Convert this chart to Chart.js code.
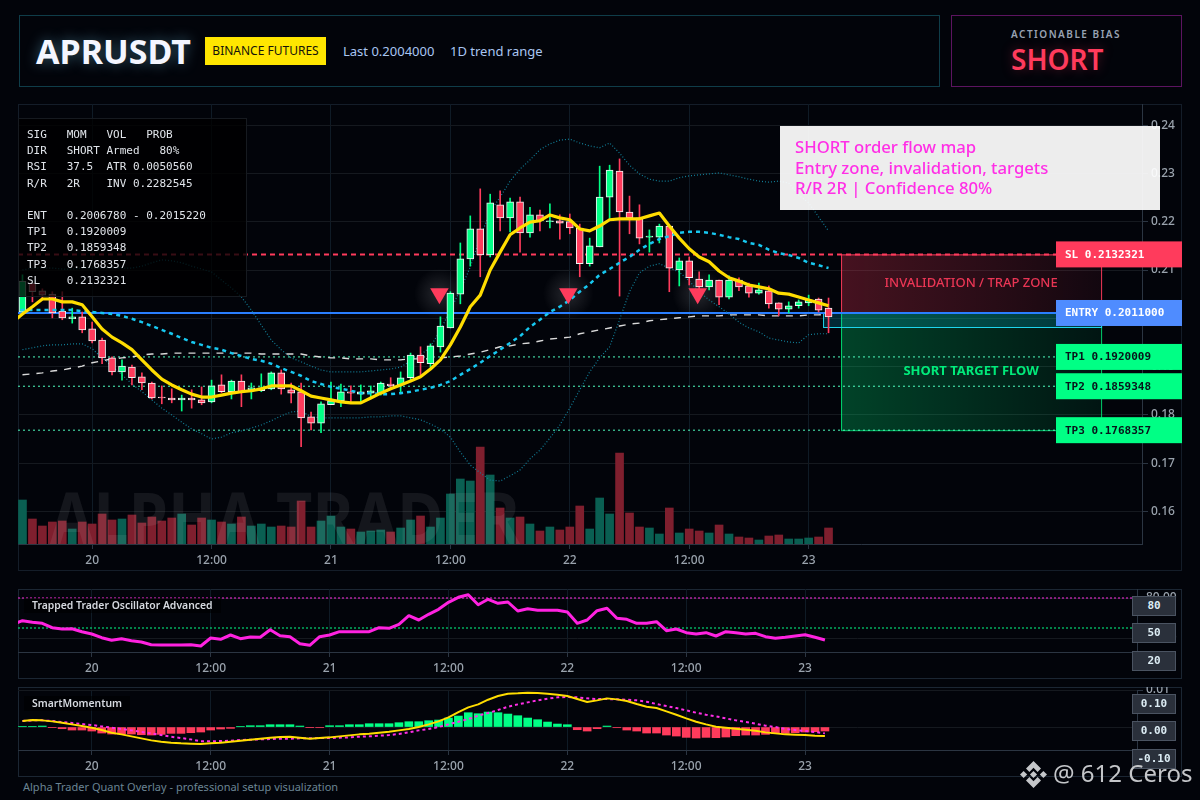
<!DOCTYPE html>
<html>
<head>
<meta charset="utf-8">
<title>APRUSDT</title>
<script src="https://cdn.jsdelivr.net/npm/chart.js@4/dist/chart.umd.min.js"></script>
<style>
  html, body { margin: 0; padding: 0; background: #02040a; }
  body { width: 1200px; height: 800px; position: relative; overflow: hidden; font-family: "Noto Sans", sans-serif; }
  canvas { position: absolute; left: 0; z-index: 1; }
  .panel { position: absolute; box-sizing: border-box; }
  .over { position: absolute; z-index: 3; white-space: pre; }
  .box { position: absolute; z-index: 3; box-sizing: border-box; width: 44px; height: 20px; left: 1132px; background: #2a303b; border: 1px solid #4a5361; color: #dcecf4;
         font: bold 11px/18px "DejaVu Sans Mono", monospace; text-align: center; }
</style>
</head>
<body>
<div class="panel" style="left:19px;top:15px;width:921px;height:72px;border:1px solid #0f3d49"></div>
<div class="panel" style="left:951px;top:15px;width:231px;height:72px;border:1px solid #5c1460"></div>
<div class="panel" style="left:18px;top:104px;width:1164px;height:467px;border:1px solid #141d29"></div>
<div class="panel" style="left:18px;top:589px;width:1164px;height:90px;border:1px solid #1b2633"></div>
<div class="panel" style="left:18px;top:687px;width:1164px;height:90px;border:1px solid #1b2633"></div>

<div class="over" style="left:36px;top:28px;font-size:34px;line-height:46px;font-weight:700;color:#f4f6ff;text-shadow:0 0 14px rgba(120,200,230,.45)">APRUSDT</div>
<div class="over" style="left:205px;top:37px;width:121px;height:28px;background:#ffe600;color:#14130a;font-size:12px;line-height:28px;text-align:center">BINANCE FUTURES</div>
<div class="over" style="left:343px;top:41px;font-size:13px;line-height:20px;color:#a9c6f2">Last 0.2004000</div>
<div class="over" style="left:450px;top:41px;font-size:13px;line-height:20px;color:#a9c6f2">1D trend range</div>
<div class="over" style="left:1011px;top:27px;font-size:10px;line-height:14px;letter-spacing:1.5px;color:#98a2b3;font-weight:600">ACTIONABLE BIAS</div>
<div class="over" style="left:1011px;top:39px;font-size:28px;line-height:40px;font-weight:600;color:#ff3b5c;text-shadow:0 0 12px rgba(255,59,92,.35)">SHORT</div>

<div class="over" style="left:18px;top:118px;width:229px;height:179px;box-sizing:border-box;padding:8px 8px;background:rgba(0,0,0,.78);border:1px solid #161a20;color:#e0e4ea;font:11px/16.2px 'DejaVu Sans Mono',monospace" id="info"></div>

<div class="over" style="left:780px;top:126px;width:380px;height:84px;box-sizing:border-box;padding:11px 15px;background:rgba(255,255,255,.93);color:#ff2fe6;font-size:16.7px;line-height:20.5px;font-weight:500">SHORT order flow map
Entry zone, invalidation, targets
R/R 2R | Confidence 80%</div>

<div class="over" style="left:24px;top:598px;padding:0 8px;background:rgba(0,0,0,.55);color:#d5d9df;font-size:10.4px;line-height:15px;font-weight:600">Trapped Trader Oscillator Advanced</div>
<div class="over" style="left:24px;top:696px;padding:0 8px;background:rgba(0,0,0,.55);color:#d5d9df;font-size:10.4px;line-height:15px;font-weight:600">SmartMomentum</div>

<div class="box" style="top:596px">80</div>
<div class="box" style="top:623px">50</div>
<div class="box" style="top:651px">20</div>
<div class="box" style="top:694px">0.10</div>
<div class="box" style="top:721px">0.00</div>
<div class="box" style="top:749px">-0.10</div>

<div class="over" style="left:23px;top:779px;font-size:11px;line-height:16px;color:#6a8494">Alpha Trader Quant Overlay - professional setup visualization</div>

<svg class="over" style="left:1020px;top:761px" width="27" height="27" viewBox="0 0 27 27">
  <g fill="#c4c6c9">
    <path d="M13.5 0 L21 7.5 L17.6 10.9 L13.5 6.8 L9.4 10.9 L6 7.5 Z"/>
    <path d="M13.5 27 L6 19.5 L9.4 16.1 L13.5 20.2 L17.6 16.1 L21 19.5 Z"/>
    <path d="M3.6 9.9 L7.2 13.5 L3.6 17.1 L0 13.5 Z"/>
    <path d="M23.4 9.9 L27 13.5 L23.4 17.1 L19.8 13.5 Z"/>
    <path d="M13.5 9.9 L17.1 13.5 L13.5 17.1 L9.9 13.5 Z"/>
  </g>
</svg>
<div class="over" style="left:1053px;top:757px;font-size:24px;line-height:32px;color:#c4c6c9">@ 612 Ceros</div>

<canvas id="mainChart" width="1200" height="475" style="top:100px;width:1200px;height:475px"></canvas>
<canvas id="oscChart" width="1200" height="89" style="top:589px;width:1200px;height:89px"></canvas>
<canvas id="momChart" width="1200" height="89" style="top:687px;width:1200px;height:89px"></canvas>

<script>
// hourly candles, index 0 = 19th 17:00
const opens = [
  .2013,.2073,.2057,.2050,.2015,.1999,.2003,.1978,.1955,.1918,
  .1889,.1899,.1879,.1866,.1837,.1835,.1831,.1835,.1831,.1827,
  .1862,.1848,.1870,.1852,.1850,.1854,.1887,.1852,.1848,.1796,
  .1783,.1821,.1829,.1848,.1843,.1845,.1845,.1864,.1862,.1877,
  .1924,.1906,.1941,.1980,.2050,.2123,.2185,.2131,.2235,.2208,
  .2241,.2177,.2214,.2200,.2202,.2200,.2187,.2113,.2148,.2251,
  .2305,.2220,.2208,.2168,.2168,.2191,.2100,.2119,.2081,.2065,
  .2079,.2044,.2079,.2067,.2052,.2057,.2032,.2019,.2026,.2032,
  .2040,.2021];
const highs = [
  .2090,.2073,.2061,.2055,.2055,.2021,.2013,.1992,.1959,.1920,
  .1914,.1903,.1887,.1868,.1860,.1854,.1841,.1852,.1858,.1872,
  .1883,.1872,.1883,.1866,.1885,.1889,.1893,.1866,.1866,.1806,
  .1827,.1868,.1864,.1860,.1862,.1860,.1868,.1877,.1889,.1928,
  .1941,.1947,.2003,.2055,.2156,.2212,.2268,.2257,.2264,.2249,
  .2251,.2230,.2224,.2237,.2214,.2216,.2195,.2166,.2315,.2317,
  .2330,.2253,.2235,.2183,.2195,.2191,.2125,.2127,.2096,.2090,
  .2079,.2088,.2084,.2073,.2073,.2067,.2032,.2034,.2038,.2048,
  .2042,.2042];
const lows = [
  .2011,.2034,.2038,.2001,.1997,.1990,.1970,.1949,.1906,.1883,
  .1872,.1862,.1852,.1833,.1823,.1825,.1808,.1814,.1821,.1825,
  .1846,.1833,.1817,.1833,.1848,.1852,.1843,.1825,.1734,.1769,
  .1763,.1821,.1817,.1825,.1827,.1835,.1841,.1852,.1848,.1872,
  .1883,.1899,.1930,.1980,.2030,.2108,.2086,.2127,.2181,.2179,
  .2137,.2168,.2181,.2187,.2164,.2175,.2086,.2108,.2148,.2206,
  .2046,.2175,.2154,.2137,.2156,.2055,.2067,.2069,.2048,.2059,
  .2028,.2040,.2057,.2044,.2050,.2021,.2005,.2011,.2021,.2026,
  .2013,.1970];
const closes = [
  .2077,.2055,.2048,.2011,.2001,.2003,.1976,.1953,.1918,.1889,
  .1901,.1877,.1866,.1835,.1835,.1831,.1835,.1831,.1825,.1860,
  .1848,.1870,.1848,.1856,.1856,.1887,.1854,.1845,.1794,.1783,
  .1823,.1829,.1848,.1845,.1848,.1850,.1866,.1860,.1877,.1924,
  .1908,.1943,.1984,.2052,.2123,.2185,.2131,.2239,.2208,.2241,
  .2177,.2214,.2202,.2202,.2197,.2187,.2113,.2150,.2251,.2307,
  .2220,.2208,.2166,.2170,.2191,.2104,.2119,.2084,.2065,.2079,
  .2044,.2079,.2065,.2052,.2059,.2030,.2019,.2026,.2034,.2038,
  .2017,.2003];
const volumes = [
  44,25,18,22,23,15,22,20,30,24,
  25,29,21,27,23,26,30,19,26,24,
  22,20,27,18,20,17,18,17,43,17,
  23,28,17,15,12,13,14,12,16,24,
  28,17,26,50,65,63,97,69,36,26,
  27,20,13,17,14,17,38,15,46,30,
  91,31,17,16,10,36,11,15,13,11,
  19,10,7,6,4,8,9,5,5,6,
  7,16];

// overlays. ema and bbMid start one bar earlier, they run off the left edge
const ema = [.1992,
  .2009,.2024,.2040,.2040,.2034,.2034,.2028,.2003,.1978,.1961,
  .1949,.1935,.1914,.1893,.1874,.1862,.1852,.1843,.1837,.1837,
  .1841,.1845,.1848,.1850,.1854,.1860,.1860,.1860,.1850,.1839,
  .1835,.1831,.1827,.1825,.1825,.1835,.1845,.1854,.1862,.1870,
  .1879,.1895,.1914,.1945,.1982,.2024,.2048,.2100,.2137,.2173,
  .2187,.2199,.2202,.2214,.2208,.2204,.2185,.2181,.2191,.2204,
  .2206,.2206,.2206,.2212,.2218,.2191,.2166,.2144,.2127,.2117,
  .2098,.2084,.2077,.2069,.2065,.2061,.2052,.2050,.2044,.2038,
  .2032,.2026];
const bbMid = [.2015,
  .2017,.2017,.2017,.2017,.2017,.2017,.2015,.2013,.2011,.2009,
  .2005,.1999,.1992,.1984,.1976,.1968,.1959,.1951,.1945,.1939,
  .1935,.1928,.1922,.1916,.1912,.1906,.1897,.1889,.1881,.1870,
  .1864,.1858,.1854,.1850,.1845,.1845,.1843,.1843,.1845,.1848,
  .1852,.1856,.1862,.1870,.1883,.1895,.1908,.1922,.1935,.1949,
  .1963,.1982,.1997,.2013,.2024,.2038,.2055,.2071,.2090,.2102,
  .2115,.2127,.2142,.2154,.2164,.2170,.2177,.2179,.2179,.2177,
  .2173,.2168,.2164,.2156,.2152,.2142,.2135,.2131,.2125,.2115,
  .2110,.2104];
const sma = [
  .1883,.1885,.1887,.1891,.1893,.1897,.1901,.1908,.1912,.1916,
  .1918,.1920,.1924,.1926,.1926,.1928,.1928,.1928,.1928,.1928,
  .1928,.1928,.1928,.1928,.1926,.1926,.1926,.1926,.1926,.1922,
  .1920,.1918,.1918,.1916,.1916,.1916,.1914,.1914,.1914,.1916,
  .1916,.1916,.1918,.1920,.1922,.1926,.1930,.1935,.1941,.1943,
  .1947,.1949,.1953,.1957,.1959,.1961,.1968,.1972,.1976,.1980,
  .1984,.1988,.1990,.1995,.1997,.1999,.2001,.2003,.2005,.2005,
  .2005,.2007,.2007,.2007,.2007,.2005,.2005,.2005,.2005,.2007,
  .2007,.2009];
const bbUpper = [
  .2100,.2104,.2104,.2104,.2102,.2102,.2104,.2104,.2104,.2104,
  .2104,.2104,.2108,.2115,.2121,.2119,.2115,.2108,.2102,.2096,
  .2079,.2063,.2044,.2017,.1986,.1955,.1935,.1918,.1910,.1901,
  .1893,.1889,.1889,.1889,.1889,.1891,.1893,.1895,.1899,.1912,
  .1924,.1941,.1976,.2017,.2059,.2106,.2168,.2220,.2251,.2284,
  .2309,.2328,.2349,.2361,.2369,.2371,.2363,.2357,.2353,.2363,
  .2342,.2317,.2299,.2288,.2284,.2284,.2291,.2295,.2297,.2299,
  .2301,.2297,.2293,.2288,.2284,.2282,.2284,.2280,.2255,.2239,
  .2210,.2181];
const bbLower = [
  .1935,.1939,.1943,.1945,.1945,.1947,.1947,.1937,.1918,.1901,
  .1883,.1864,.1848,.1831,.1814,.1800,.1785,.1771,.1761,.1750,
  .1754,.1763,.1767,.1773,.1779,.1788,.1798,.1806,.1808,.1796,
  .1794,.1794,.1794,.1794,.1794,.1796,.1796,.1798,.1798,.1794,
  .1790,.1781,.1771,.1754,.1723,.1696,.1680,.1665,.1663,.1674,
  .1686,.1709,.1727,.1752,.1779,.1814,.1852,.1889,.1918,.1941,
  .1997,.2055,.2094,.2108,.2113,.2104,.2096,.2077,.2055,.2038,
  .2024,.2009,.1992,.1980,.1972,.1959,.1955,.1951,.1949,.1966,
  .1968,.1968];

// sell signals
const signalBars = [41.9, 54.85, 67.85];
const signalPrices = [.2051, .2051, .2051];

// trade levels
const slPrice = 0.2132321;
const entryPrice = 0.2011000;
const entryLow = 0.1982;
const tp1Price = 0.1920009;
const tp2Price = 0.1859348;
const tp3Price = 0.1768357;

// oscillator (starts one bar earlier too)
const oscillator = [53.7,
  57.3,55.7,54.7,50.3,49,49.3,46.3,44,40.3,37.7,
  39.3,37.3,36,33.3,33,33,33,33.3,32,40,
  38.7,43,39.3,41,40.7,48.3,42.3,41.3,34.3,32.7,
  41.3,43,46.3,46.3,46.3,46.3,50.3,49.7,53.7,62.3,
  58,63.7,68.7,75.7,80.7,83.3,73.3,78.7,74.7,76,
  67,69.3,67.7,67.7,67.7,66,54.7,58,67.3,69.7,
  59.7,58.7,54.7,54.7,56.3,47.3,49,45.3,44,45.3,
  42,46.3,45.3,44,44.7,41.3,39.7,40.7,42,43.3,
  40.7,38];

// momentum
const momLine = [
  .00162,.00189,.0018,.00153,.00117,.00072,.00027,-.00018,-.00081,-.00153,
  -.00198,-.00252,-.00306,-.0036,-.00396,-.00423,-.00441,-.0045,-.00459,-.00441,
  -.00423,-.00396,-.00369,-.00342,-.00315,-.00288,-.0027,-.00261,-.00288,-.00315,
  -.00297,-.00279,-.00252,-.00225,-.00198,-.0018,-.00153,-.00126,-.0009,-.00054,
  0,.00072,.00153,.00261,.00405,.00531,.00612,.00738,.00837,.009,
  .00909,.00927,.00918,.009,.00873,.00837,.00756,.00675,.0072,.00774,
  .00747,.00702,.00621,.00549,.00513,.00423,.00333,.00234,.00144,.00072,
  .00009,-.00018,-.00045,-.00072,-.00099,-.00144,-.00171,-.00198,-.00207,-.00216,
  -.00234,-.00243];
const momSignal = [
  .00162,.0018,.0018,.00162,.00135,.00108,.00081,.00054,.00018,-.00018,
  -.00054,-.0009,-.00135,-.00171,-.00216,-.00261,-.00297,-.00333,-.00387,-.00387,
  -.00378,-.00369,-.00351,-.00342,-.00333,-.00324,-.00315,-.00315,-.00306,-.00306,
  -.00297,-.00297,-.00288,-.00279,-.00261,-.00252,-.00234,-.00216,-.00189,-.00144,
  -.0009,-.00054,0,.00072,.00144,.00216,.00306,.00378,.00459,.00549,
  .00612,.00666,.0072,.00765,.00801,.0081,.00801,.00774,.00756,.00756,
  .00747,.00738,.0072,.00684,.00621,.00567,.00513,.0045,.00387,.00333,
  .00288,.00234,.0018,.00135,.0009,.00036,0,-.00054,-.00081,-.00108,
  -.00135,-.00171];
const momHist = [
  .00009,.00009,.00027,-.00009,-.00045,-.00081,-.00081,-.00108,-.00162,-.00189,
  -.00189,-.00189,-.00207,-.00216,-.00198,-.00171,-.00171,-.00153,-.00135,-.00081,
  -.00054,-.00036,.00009,.00036,.00036,.00063,.00063,.00063,.00027,-.00009,
  -.00018,.00036,.00036,.00063,.00063,.0009,.0009,.0009,.00117,.00144,
  .00144,.00171,.00189,.00243,.00297,.00387,.0036,.00405,.00387,.00351,
  .00306,.00243,.00198,.00135,.00081,.00063,-.00072,-.00108,-.00045,.00027,
  -.00018,-.00081,-.00108,-.00162,-.00162,-.00216,-.00243,-.00279,-.00297,-.00279,
  -.00288,-.0027,-.00234,-.00216,-.00216,-.00198,-.0018,-.00171,-.00153,-.00135,
  -.00126,-.00108];

// time axis
const tickBars = [7, 19, 31, 43, 55, 67, 79];
const tickLabels = ['20', '12:00', '21', '12:00', '22', '12:00', '23'];

const infoRows = [
  'SIG   MOM   VOL   PROB',
  'DIR   SHORT Armed   80%',
  'RSI   37.5  ATR 0.0050560',
  'R/R   2R    INV 0.2282545',
  '',
  'ENT   0.2006780 - 0.2015220',
  'TP1   0.1920009',
  'TP2   0.1859348',
  'TP3   0.1768357',
  'SL    0.2132321'
];
document.getElementById('info').textContent = infoRows.join('\n');

const RED = '#ff3b5c', GREEN = '#00ff85';
const UI_FONT = '"Noto Sans", sans-serif', MONO = '"DejaVu Sans Mono", monospace';
const X_MIN = -0.45, X_MAX = 112.5;

function series(values, first = 0) {
  return values.map((v, i) => ({ x: i + first, y: v }));
}

function lineSet(data, color, width, dash, order, yAxisID = 'y') {
  return { type: 'line', data, yAxisID, borderColor: color, borderWidth: width, borderDash: dash,
    pointRadius: 0, tension: 0, order, fill: false, borderJoinStyle: 'round' };
}

function levelSet(price, end, color, width, dash, order) {
  return lineSet([{ x: X_MIN, y: price }, { x: end, y: price }], color, width, dash, order);
}

function timeAxis() {
  return {
    type: 'linear', min: X_MIN, max: X_MAX, offset: false,
    afterBuildTicks: s => { s.ticks = tickBars.map(v => ({ value: v })); },
    afterFit: s => { s.height = 26; s.paddingLeft = 0; s.paddingRight = 0; },
    grid: { color: '#0f1b26', tickColor: '#2b3542', tickLength: 5, offset: false },
    border: { color: '#2b3542' },
    ticks: {
      color: '#9aa3ad', font: { family: UI_FONT, size: 12, weight: '500' }, padding: 4, maxRotation: 0, autoSkip: false,
      callback: v => tickLabels[tickBars.indexOf(v)]
    }
  };
}

function priceAxis(width, min, max, tickValues, digits) {
  return {
    position: 'right', min, max,
    afterBuildTicks: s => { s.ticks = tickValues.map(v => ({ value: v })); },
    afterFit: s => { s.width = width; s.paddingTop = 0; s.paddingBottom = 0; },
    grid: { color: '#15191f', tickColor: '#2b3542', tickLength: 6 },
    border: { color: '#2b3542' },
    ticks: { color: '#9aa3ad', font: { family: UI_FONT, size: 12, weight: '500' }, padding: 3, callback: v => v.toFixed(digits) }
  };
}

const zonePlugin = {
  id: 'zones',
  // the volume set is drawn first, the watermark sits on it and under the candles
  afterDatasetDraw(chart, args) {
    if (args.index !== 0) return;
    const { ctx, chartArea: a } = chart;
    ctx.save();
    ctx.beginPath();
    ctx.rect(a.left, a.top, a.right - a.left, a.bottom - a.top);
    ctx.clip();
    ctx.font = 'bold 72px ' + UI_FONT;
    ctx.fillStyle = 'rgba(255,255,255,0.075)';
    ctx.textBaseline = 'alphabetic';
    ctx.textAlign = 'left';
    ctx.fillText('ALPHA TRADER', 50, 444, 470);
    ctx.restore();
  },
  beforeDatasetsDraw(chart) {
    const { ctx, chartArea: a, scales: { x, y } } = chart;
    const zl = x.getPixelForValue(82.26), zr = x.getPixelForValue(108.39), el = x.getPixelForValue(80.45);
    ctx.save();
    ctx.beginPath();
    ctx.rect(a.left, a.top, a.right - a.left, a.bottom - a.top);
    ctx.clip();

    // glow behind the signal triangles
    signalBars.forEach((b, i) => {
      const px = x.getPixelForValue(b), py = y.getPixelForValue(signalPrices[i]);
      const g = ctx.createRadialGradient(px, py, 4, px, py, 26);
      g.addColorStop(0, 'rgba(255,255,255,0.12)');
      g.addColorStop(1, 'rgba(255,255,255,0)');
      ctx.fillStyle = g;
      ctx.fillRect(px - 26, py - 26, 52, 52);
    });
    ctx.restore();

    // red and green zones fade to the right
    const sl = y.getPixelForValue(slPrice), en = y.getPixelForValue(entryPrice), tp3 = y.getPixelForValue(tp3Price);
    const low = y.getPixelForValue(entryLow);
    ctx.save();
    let g = ctx.createLinearGradient(zl, 0, zr, 0);
    g.addColorStop(0, 'rgba(255,59,92,0.27)');
    g.addColorStop(1, 'rgba(255,59,92,0.07)');
    ctx.fillStyle = g;
    ctx.fillRect(zl, sl, zr - zl, en - sl);
    ctx.strokeStyle = 'rgba(255,59,92,0.95)';
    ctx.lineWidth = 1;
    ctx.strokeRect(zl + .5, sl + .5, zr - zl, en - sl);
    g = ctx.createLinearGradient(zl, 0, zr, 0);
    g.addColorStop(0, 'rgba(0,255,133,0.25)');
    g.addColorStop(1, 'rgba(0,255,133,0.07)');
    ctx.fillStyle = g;
    ctx.fillRect(zl, en, zr - zl, tp3 - en);
    ctx.strokeStyle = 'rgba(0,255,133,0.8)';
    ctx.strokeRect(zl + .5, en + .5, zr - zl, tp3 - en);
    ctx.fillStyle = 'rgba(0,190,230,0.2)';
    ctx.fillRect(el, en, zr - el, low - en);
    ctx.strokeStyle = '#1fd6ef';
    ctx.strokeRect(el + .5, en + .5, zr - el, low - en);
    ctx.restore();
  },
  afterDraw(chart) {
    const { ctx, scales: { x, y } } = chart;
    const zl = x.getPixelForValue(82.26), zr = x.getPixelForValue(108.39);
    const mid = (zl + zr) / 2;
    ctx.save();
    ctx.textBaseline = 'middle';
    ctx.textAlign = 'center';
    ctx.font = '500 13px ' + UI_FONT;
    ctx.fillStyle = 'rgba(255,59,92,0.9)';
    ctx.fillText('INVALIDATION / TRAP ZONE', mid, y.getPixelForValue((slPrice + entryPrice) / 2));
    ctx.font = '700 13px ' + UI_FONT;
    ctx.fillStyle = 'rgba(0,255,133,0.9)';
    ctx.fillText('SHORT TARGET FLOW', mid, y.getPixelForValue(0.1891));

    // price flags on the right
    const flags = [
      ['SL 0.2132321', slPrice, RED, '#ffffff'],
      ['ENTRY 0.2011000', entryPrice, '#4f8cff', '#ffffff'],
      ['TP1 0.1920009', tp1Price, GREEN, '#07131a'],
      ['TP2 0.1859348', tp2Price, GREEN, '#07131a'],
      ['TP3 0.1768357', tp3Price, GREEN, '#07131a']
    ];
    ctx.textAlign = 'left';
    ctx.font = 'bold 11px ' + MONO;
    flags.forEach(([text, price, bg, fg]) => {
      const py = y.getPixelForValue(price);
      ctx.fillStyle = bg;
      ctx.fillRect(1056, py - 13, 126, 26);
      ctx.fillStyle = fg;
      ctx.fillText(text, 1065, py + .5);
    });
    ctx.restore();
  }
};

function drawMain() {
  const ctx = document.getElementById('mainChart').getContext('2d');
  const isUp = i => closes[i] >= opens[i];
  new Chart(ctx, {
    type: 'bar',
    data: {
      datasets: [
        { data: series(volumes), yAxisID: 'vol', grouped: false, barThickness: 8, order: 100,
          backgroundColor: volumes.map((_, i) => isUp(i) ? '#0a5f52' : '#7f1f2e') },
        levelSet(tp3Price, 103.9, '#4fffc0', 1, [2, 3], 92),
        levelSet(tp2Price, 103.9, '#4fffc0', 1, [2, 3], 91),
        levelSet(tp1Price, 103.9, '#4fffc0', 1, [2, 3], 90),
        levelSet(slPrice, 103.9, RED, 2, [5, 4], 89),
        levelSet(entryPrice, 103.9, '#2a7fff', 2, [], 88),
        lineSet(series(bbUpper), '#12809a', 1.2, [1, 2], 80),
        lineSet(series(bbLower), '#12809a', 1.2, [1, 2], 79),
        lineSet(series(sma), '#d9d9d9', 1.4, [7, 7], 70),
        { data: opens.map((_, i) => ({ x: i, y: [lows[i], highs[i]] })), grouped: false, barThickness: 1, order: 60,
          backgroundColor: opens.map((_, i) => isUp(i) ? GREEN : RED) },
        { data: opens.map((_, i) => ({ x: i, y: [opens[i], closes[i]] })), grouped: false, barThickness: 7, order: 50,
          backgroundColor: opens.map((_, i) => isUp(i) ? GREEN : RED),
          borderColor: 'rgba(255,255,255,0.95)', borderWidth: 1, borderSkipped: false },
        lineSet(series(bbMid, -1), '#17c8f0', 2.5, [4, 4], 40),
        lineSet(series(ema, -1), '#ffdd00', 3.2, [], 30),
        { type: 'line', showLine: false, order: 20, data: signalBars.map((b, i) => ({ x: b, y: signalPrices[i] })),
          pointStyle: 'triangle', pointRotation: 180, pointRadius: 10.7, backgroundColor: RED, borderWidth: 0 }
      ]
    },
    options: {
      responsive: false, animation: false, events: [],
      // the big signal points must not push the plot area in
      layout: { autoPadding: false, padding: { left: 18, right: 18, top: 4, bottom: 5 } },
      plugins: { legend: { display: false }, tooltip: { enabled: false } },
      scales: {
        x: timeAxis(),
        y: priceAxis(40, 0.15327, 0.24437, [0.16, 0.17, 0.18, 0.19, 0.20, 0.21, 0.22, 0.23, 0.24], 2),
        vol: { display: false, min: 0, max: 440, ticks: { display: false }, afterFit: s => { s.paddingTop = 0; s.paddingBottom = 0; } }
      }
    },
    plugins: [zonePlugin]
  });
}

function drawOsc() {
  new Chart(document.getElementById('oscChart').getContext('2d'), {
    type: 'line',
    data: {
      datasets: [
        lineSet([{ x: X_MIN, y: 80 }, { x: X_MAX, y: 80 }], '#ff2ee6', 1, [2, 2], 5),
        lineSet([{ x: X_MIN, y: 50 }, { x: X_MAX, y: 50 }], GREEN, 1, [2, 2], 4),
        lineSet(series(oscillator, -1), '#ff22e0', 3, [], 1)
      ]
    },
    options: {
      responsive: false, animation: false, events: [],
      layout: { autoPadding: false, padding: { left: 18, right: 18, top: 0, bottom: 0 } },
      plugins: { legend: { display: false }, tooltip: { enabled: false } },
      scales: { x: timeAxis(), y: priceAxis(45, 26, 89, [80, 40], 2) }
    }
  });
}

function drawMom() {
  new Chart(document.getElementById('momChart').getContext('2d'), {
    type: 'bar',
    data: {
      datasets: [
        { data: series(momHist), grouped: false, barThickness: 8, order: 5,
          backgroundColor: momHist.map(v => v >= 0 ? GREEN : RED) },
        lineSet(series(momSignal), '#ff2ee6', 2, [3, 3], 2),
        lineSet(series(momLine), '#ffdd00', 2, [], 1)
      ]
    },
    options: {
      responsive: false, animation: false, events: [],
      layout: { autoPadding: false, padding: { left: 18, right: 18, top: 3, bottom: 0 } },
      plugins: { legend: { display: false }, tooltip: { enabled: false } },
      scales: { x: timeAxis(), y: priceAxis(45, -0.0062, 0.01, [0.01, 0], 2) }
    }
  });
}

drawMain();
drawOsc();
drawMom();
</script>
</body>
</html>
